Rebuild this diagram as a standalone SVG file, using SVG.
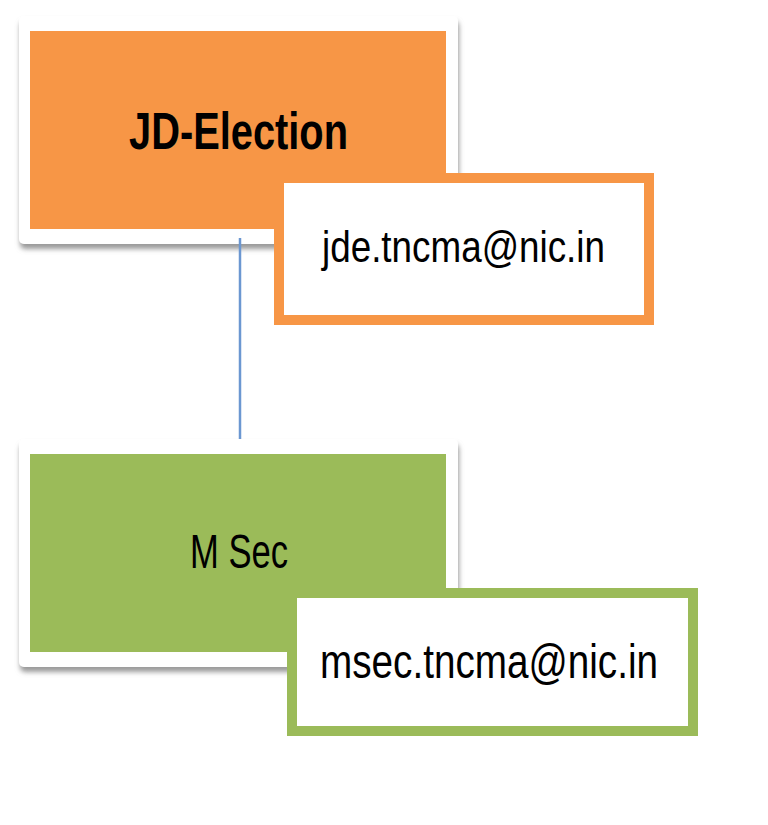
<svg xmlns="http://www.w3.org/2000/svg" width="768" height="825" viewBox="0 0 768 825">
<defs>
<filter id="sh" x="-10%" y="-10%" width="125%" height="130%">
<feDropShadow dx="1" dy="5" stdDeviation="2.5" flood-color="#808080" flood-opacity="0.8"/>
</filter>
</defs>
<style>
.frame{fill:#ffffff;filter:url(#sh)}
.lbl{font-family:"Liberation Sans",Arial,sans-serif;fill:#000000}
.mail{fill:#ffffff;stroke-width:10}
</style>
<rect width="768" height="825" fill="#ffffff"/>
<g id="node-jd-election">
<rect class="frame" x="19" y="16" width="439" height="228" rx="5"/>
<rect x="30" y="31" width="416" height="198" fill="#F79646"/>
<text class="lbl" x="129" y="149" font-size="52" font-weight="bold" textLength="219" lengthAdjust="spacingAndGlyphs">JD-Election</text>
</g>
<g id="node-jde-mail">
<rect class="mail" x="279" y="178" width="370" height="142" stroke="#F79646"/>
<text class="lbl" x="322" y="262" font-size="44" textLength="283" lengthAdjust="spacingAndGlyphs">jde.tncma@nic.in</text>
</g>
<g id="node-msec">
<rect class="frame" x="19" y="439" width="439" height="228" rx="5"/>
<rect x="30" y="454" width="416" height="198" fill="#9BBB59"/>
<text class="lbl" x="190" y="568" font-size="48" textLength="98" lengthAdjust="spacingAndGlyphs">M Sec</text>
</g>
<g id="node-msec-mail">
<rect class="mail" x="292" y="593" width="401" height="138" stroke="#9BBB59"/>
<text class="lbl" x="320" y="678" font-size="48" textLength="338" lengthAdjust="spacingAndGlyphs">msec.tncma@nic.in</text>
</g>
<g id="connectors">
<line x1="240" y1="238" x2="240" y2="439" stroke="#6B97D1" stroke-width="2.5"/>
</g>
</svg>
